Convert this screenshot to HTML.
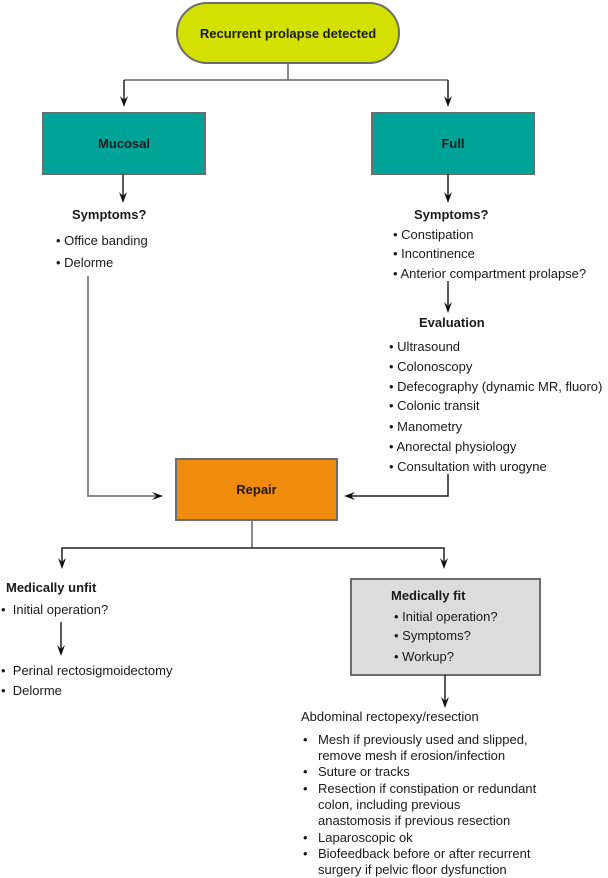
<!DOCTYPE html>
<html><head><meta charset="utf-8"><style>
body{margin:0;width:608px;height:878px;background:#fff;position:relative;overflow:hidden;font-family:"Liberation Sans",Arial,sans-serif;color:#1a1a1a}
.t{position:absolute;font-size:13px;line-height:16px;white-space:nowrap}
.b{font-weight:bold}
.box{position:absolute;box-sizing:border-box;border:2px solid #6d6d6d;display:flex;align-items:center;justify-content:center;font-weight:bold;font-size:13px}
svg{position:absolute;left:0;top:0;z-index:2}
</style></head><body>
<svg width="608" height="878">
<g stroke="#666" stroke-width="1.5" fill="none">
<line x1="288" y1="63" x2="288" y2="80"/>
<line x1="252" y1="521" x2="252" y2="548"/>
<polyline points="88,276 88,496 155,496"/>
<polyline points="124,80 448,80"/>
</g>
<g stroke="#222" stroke-width="1.5" fill="none">
<line x1="124" y1="80" x2="124" y2="102"/>
<line x1="448" y1="80" x2="448" y2="102"/>
<line x1="123" y1="174" x2="123" y2="198"/>
<line x1="448" y1="174" x2="448" y2="198"/>
<line x1="448" y1="281" x2="448" y2="306"/>
<polyline points="448,474 448,496 350,496"/>
<polyline points="62,562 62,548 444,548 444,562"/>
<line x1="61" y1="622" x2="61" y2="650"/>
<line x1="445" y1="675" x2="445" y2="702"/>
</g>
<g fill="#111">
<polygon points="120,96 124,107 128,96 124,100"/>
<polygon points="444,96 448,107 452,96 448,100"/>
<polygon points="119,192 123,203 127,192 123,196"/>
<polygon points="444,192 448,203 452,192 448,196"/>
<polygon points="444,302 448,313 452,302 448,306"/>
<polygon points="58,558 62,569 66,558 62,562"/>
<polygon points="440,558 444,569 448,558 444,562"/>
<polygon points="57,645 61,656 65,645 61,649"/>
<polygon points="441,697 445,708 449,697 445,701"/>
<polygon points="152,492 163,496 152,500 156,496"/>
<polygon points="355,492 344,496 355,500 351,496"/>
</g>
</svg>
<div class="box" style="left:176px;top:2px;width:224px;height:62px;border-radius:31px;background:#d4e000">Recurrent prolapse detected</div>
<div class="box" style="left:42px;top:112px;width:164px;height:63px;background:#00a398">Mucosal</div>
<div class="box" style="left:371px;top:112px;width:164px;height:63px;background:#00a398">Full</div>
<div class="box" style="left:175px;top:458px;width:163px;height:63px;background:#f08c0d">Repair</div>
<div class="box" style="left:350px;top:578px;width:191px;height:98px;background:#dcdcdc"></div>

<div class="t b" style="left:72px;top:207px">Symptoms?</div>
<div class="t" style="left:56px;top:233px">• Office banding</div>
<div class="t" style="left:56px;top:255px">• Delorme</div>

<div class="t b" style="left:414px;top:207px">Symptoms?</div>
<div class="t" style="left:393px;top:227px">• Constipation</div>
<div class="t" style="left:393px;top:246px">• Incontinence</div>
<div class="t" style="left:393px;top:266px">• Anterior compartment prolapse?</div>

<div class="t b" style="left:419px;top:315px">Evaluation</div>
<div class="t" style="left:389px;top:339px">• Ultrasound</div>
<div class="t" style="left:389px;top:359px">• Colonoscopy</div>
<div class="t" style="left:389px;top:379px">• Defecography (dynamic MR, fluoro)</div>
<div class="t" style="left:389px;top:398px">• Colonic transit</div>
<div class="t" style="left:389px;top:419px">• Manometry</div>
<div class="t" style="left:389px;top:439px">• Anorectal physiology</div>
<div class="t" style="left:389px;top:459px">• Consultation with urogyne</div>

<div class="t b" style="left:6px;top:580px">Medically unfit</div>
<div class="t" style="left:1px;top:602px">•&nbsp; Initial operation?</div>
<div class="t" style="left:1px;top:663px">•&nbsp; Perinal rectosigmoidectomy</div>
<div class="t" style="left:1px;top:683px">•&nbsp; Delorme</div>

<div class="t b" style="left:391px;top:588px">Medically fit</div>
<div class="t" style="left:394px;top:609px">• Initial operation?</div>
<div class="t" style="left:394px;top:628px">• Symptoms?</div>
<div class="t" style="left:394px;top:649px">• Workup?</div>

<div class="t" style="left:301px;top:709px">Abdominal rectopexy/resection</div>
<div class="t" style="left:303px;top:732px">•</div><div class="t" style="left:318px;top:732px;line-height:15.5px">Mesh if previously used and slipped,<br>remove mesh if erosion/infection</div>
<div class="t" style="left:303px;top:764px">•</div><div class="t" style="left:318px;top:764px">Suture or tracks</div>
<div class="t" style="left:303px;top:781px">•</div><div class="t" style="left:318px;top:781px">Resection if constipation or redundant<br>colon, including previous<br>anastomosis if previous resection</div>
<div class="t" style="left:303px;top:830px">•</div><div class="t" style="left:318px;top:830px">Laparoscopic ok</div>
<div class="t" style="left:303px;top:846px">•</div><div class="t" style="left:318px;top:846px">Biofeedback before or after recurrent<br>surgery if pelvic floor dysfunction</div>
</body></html>
